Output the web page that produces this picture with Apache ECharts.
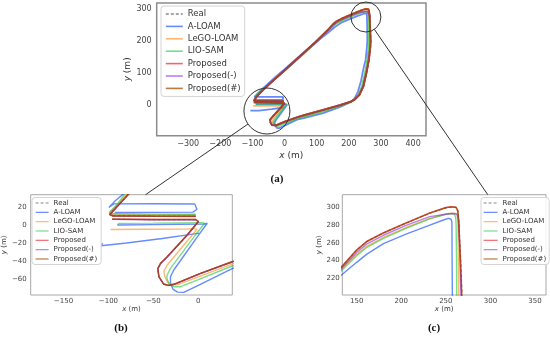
<!DOCTYPE html>
<html><head><meta charset="utf-8">
<script src="https://cdn.jsdelivr.net/npm/echarts@6/dist/echarts.min.js"></script>
<style>html,body{margin:0;padding:0;background:#fff}#c{width:550px;height:339px}</style>
</head><body><div id="c"></div>
<script>
// ---------- data (x, y in metres; null breaks a line) ----------
const seriesNames = ['Real','A-LOAM','LeGO-LOAM','LIO-SAM','Proposed','Proposed(-)','Proposed(#)'];

const realPath = [[-3,10.5],[-50,10.6],[-95,11],[-98.8,12.5],[-88,24],[-76.5,36],[-60,52.5],[-30,80.5],[0,107.5],[50,153.5],[100,200.5],[134,233.8],[150,251.8],[161,261.2],[180,271],[206,282.3],[232,293.3],[250,299.3],[256,300.3],[261.5,299.8],[263.5,296],[264.8,282],[266.8,240],[268.2,200],[267.2,180],[262.7,140],[255.2,100],[245.2,56],[233.2,30],[219.2,16],[206.2,9],[172,-1.8],[120,-16.8],[60,-33.8],[38.3,-40.2],[2.4,-53.3],[-27.3,-65.5],[-33,-66.7],[-38.5,-65.2],[-43.9,-57],[-45,-47.8],[-42,-42.2],[-34.6,-34.9],[-12.4,-10.8],[0,4.3],[2.1,6.3],[-3,6.5],[-50,6.5],[-96,6.9]];

const aloamPath = [[-93,14.5],[-50,14.6],[-6,14.8],[-1.5,18],[-4,23.8],[-50,24.2],[-94,24],[-99.5,20],[-93,27],[-84,34.5],[-72,47],[-60,58],[-30,85],[0,111],[50,156],[100,198],[134,224.5],[150,238],[161,247],[180,259],[206,270],[232,280],[248,286],[252.8,287.6],[256,286.5],[256.8,283],[257,240],[257.3,201],[256,180],[252,140],[246.7,119],[238,75],[228,40],[218,20],[208,9],[175,-7],[120,-27],[60,-43],[38.3,-47.6],[0,-66.4],[-16.2,-74.3],[-23,-74],[-28,-71],[-31,-64],[-31,-57],[-27.3,-49.4],[0.5,-10.5],[8,0],[10,2.5],[5,1.5],[-50,1],[-90,0.5],null,[-106.5,-19.5],[-108,-22.5],[-80,-19.5],[-40,-14.5],[-10,-10.2],[1,-8.5]];

const legoPath = [[-3,12],[-50,12],[-96,12.5],[-99,14],[-89,24],[-80,34.5],[-62,52],[-30,80],[0,106],[50,151],[100,196],[134,231.6],[150,247],[161,256],[180,266],[206,277.5],[232,287.5],[250,292.5],[257,293.5],[261,293],[263,290],[263.5,280],[264,240],[264.5,201],[263.5,180],[259,140],[252,100],[242,56],[230,30],[217,15],[204,7],[170,-5],[120,-20],[60,-37],[38.3,-42.6],[0,-57.1],[-23.5,-66],[-30,-65.3],[-34.6,-62.4],[-37.5,-56],[-38.4,-51.3],[-34.6,-43.9],[-6.8,-10.5],[-1.5,-4.5],[-5,-3.5],[-14,-4],[-60,-4.2],[-97.6,-4.5]];

const liosamPath = [[-3,12.5],[-50,12.6],[-96,13],[-99,14.5],[-90,24],[-82,34.5],[-62,52],[-30,80],[0,106.5],[50,152],[100,197],[134,229.7],[150,245.5],[161,254.5],[180,265],[206,276.5],[232,287],[250,292],[256,293],[259.5,292],[261,289],[261.5,280],[262,240],[262.2,201],[261.5,180],[257,140],[250,100],[240,56],[229,30],[216,15],[203,7],[170,-6],[120,-22],[60,-39],[38.3,-44.7],[0,-60.1],[-19.8,-68],[-27,-68],[-32.8,-65.3],[-35,-58],[-34.6,-55],[-31,-47.6],[-3.2,-10.5],[5,0],[7,2.5],[3,3],[-50,2.6],[-88,2.4],[-90,1]];

const proposedPath = [[-3,10.3],[-50,10.4],[-95,10.8],[-98.6,12.2],[-88,23.6],[-76.6,36],[-60,52.3],[-30,80.4],[0,107.6],[50,153.6],[100,200.8],[134,234.2],[150,252.2],[161,261.5],[180,271.4],[206,282.8],[232,293.8],[250,299.8],[256,300.6],[261,300.2],[263.2,296.5],[264.3,282],[266.2,240],[267.5,200],[266.6,180],[262.2,140],[254.8,100],[244.8,56],[232.8,30],[218.8,16],[205.8,9],[172,-1.6],[120,-16.6],[60,-33.6],[38.3,-40],[2.4,-53.1],[-27.3,-65.3],[-33,-66.5],[-38.5,-65],[-43.9,-56.8],[-45,-47.6],[-42,-42],[-34.6,-34.7],[-12.4,-10.6],[0,4.5],[2.1,6.5],[-3,6.7],[-50,6.7],[-96,7.1]];

const proposedMinusPath = [[-3,10.2],[-50,10.3],[-95,10.6],[-98.4,12],[-88,23.4],[-76.8,35.8],[-60,52],[-30,80],[0,107],[50,152.5],[100,198],[134,232],[150,249],[161,258.5],[180,268.5],[206,280],[232,289.5],[250,292.2],[258,293],[262.5,292.4],[264.2,289],[264.8,280],[265.8,240],[267,200],[266.2,180],[261.8,140],[254.5,100],[244.5,56],[232.5,30],[218.5,16],[205.5,9],[172,-1.9],[120,-17],[60,-34],[38.3,-40.3],[2.4,-53.4],[-27.3,-65.6],[-33,-66.8],[-38.5,-65.3],[-43.9,-57.1],[-45,-47.9],[-42,-42.3],[-34.6,-35],[-12.4,-10.9],[0,4.2],[2.1,6.2],[-3,6.4],[-50,6.4],[-96,6.8]];

const proposedHashPath = [[-3,10],[-50,10.2],[-95,10.5],[-98.5,12],[-88,23.5],[-76.5,36],[-60,52.5],[-30,80.5],[0,107.5],[50,153.5],[100,200.5],[134,233.5],[150,251.5],[161,261],[180,271],[206,282.5],[232,293.5],[250,299.5],[256,300.5],[261.5,300],[263.5,296],[264.5,282],[266.5,240],[268,200],[267,180],[262.5,140],[255,100],[245,56],[233,30],[219,16],[206,9],[172,-1.5],[120,-16.5],[60,-33.5],[38.3,-40],[2.4,-53.1],[-27.3,-65.3],[-33,-66.5],[-38.5,-65],[-43.9,-56.9],[-45,-47.6],[-42,-42],[-34.6,-34.7],[-12.4,-10.6],[0,4.5],[2.1,6.4],[-3,6.6],[-50,6.6],[-96,7]];

const ticksAx = [-300,-200,-100,0,100,200,300,400];
const ticksAy = [0,100,200,300];
const ticksBx = [-150,-100,-50,0];
const ticksBy = [-60,-40,-20,0,20];
const ticksCx = [150,200,250,300,350];
const ticksCy = [220,240,260,280,300];

// ---------- styling ----------
const paths = [realPath, aloamPath, legoPath, liosamPath, proposedPath, proposedMinusPath, proposedHashPath];
const colors = ['#8a8a8a','rgba(2,62,255,0.6)','rgba(255,124,0,0.55)','rgba(26,201,56,0.6)','rgba(232,0,11,0.6)','rgba(139,43,226,0.6)','rgba(159,72,0,0.72)'];
const FONT = 'DejaVu Sans';
const fmt = v => String(v).replace('-', '\u2212');

const grids = [
  {left:156.7, top:3, width:269.3, height:132.7, show:true, borderColor:'#8c8c8c', borderWidth:1.5, backgroundColor:'#fff'},
  {left:30, top:194.7, width:202.3, height:100.3, show:true, borderColor:'#a8a8a8', borderWidth:1, backgroundColor:'#fff'},
  {left:342.3, top:194.7, width:203.7, height:100.3, show:true, borderColor:'#a8a8a8', borderWidth:1, backgroundColor:'#fff'}
];
const ranges = [
  {x:[-398,440], y:[-98,319], tx:ticksAx, ty:ticksAy, fs:8, nfs:9, xg:15, yg:19, xm:4, ym:5},
  {x:[-186.5,37.8], y:[-77.2,34.2], tx:ticksBx, ty:ticksBy, fs:7, nfs:7, xg:11, yg:15, xm:2.5, ym:4},
  {x:[133.9,362.3], y:[201.2,314.2], tx:ticksCx, ty:ticksCy, fs:7, nfs:7, xg:10.5, yg:16.5, xm:2.5, ym:2.5}
];
const rich = fs => ({i:{fontStyle:'italic', fontSize:fs, fontFamily:FONT, color:'#333'}});
const xAxis = ranges.map((r,g) => ({
  type:'value', gridIndex:g, min:r.x[0], max:r.x[1],
  axisLine:{show:false}, axisTick:{show:false}, splitLine:{show:false},
  axisLabel:{customValues:r.tx, formatter:fmt, fontSize:r.fs, fontFamily:FONT, color:'#444', margin:r.xm},
  name:'{i|x} (m)', nameLocation:'middle', nameGap:r.xg,
  nameTextStyle:{fontSize:r.nfs, fontFamily:FONT, color:'#333', rich:rich(r.nfs)}
}));
const yAxis = ranges.map((r,g) => ({
  type:'value', gridIndex:g, min:r.y[0], max:r.y[1],
  axisLine:{show:false}, axisTick:{show:false}, splitLine:{show:false},
  axisLabel:{customValues:r.ty, formatter:fmt, fontSize:r.fs, fontFamily:FONT, color:'#444', margin:r.ym},
  name:'{i|y} (m)', nameLocation:'middle', nameGap:r.yg,
  nameTextStyle:{fontSize:r.nfs, fontFamily:FONT, color:'#333', rich:rich(r.nfs)}
}));

const series = [];
[1.8, 1.4, 1.4].forEach((w, g) => {
  seriesNames.forEach((name, i) => {
    series.push({
      type:'line', name, xAxisIndex:g, yAxisIndex:g, data:paths[i],
      symbol:'none', silent:true, animation:false, clip:true, connectNulls:false,
      lineStyle:{color:colors[i], width: i===0 ? w*0.8 : w, type: i===0 ? [3,2] : 'solid'},
      itemStyle:{color:colors[i]}
    });
  });
});

const legendBase = {
  orient:'vertical', data:seriesNames, selectedMode:false, itemHeight:0.5,
  backgroundColor:'rgba(255,255,255,0.85)', borderColor:'#d4d4d4', borderWidth:1, borderRadius:3
};
const legends = [
  Object.assign({}, legendBase, {left:161, top:6, itemWidth:17, itemGap:2.4, padding:[3,4,3,4],
    lineStyle:{width:1.6}, textStyle:{fontSize:8.5, lineHeight:10, fontFamily:FONT, color:'#333'}}),
  Object.assign({}, legendBase, {left:32, top:197.5, itemWidth:13, itemGap:1.33, padding:[1.5,4,1.5,3],
    lineStyle:{width:1.2}, textStyle:{fontSize:7, lineHeight:8, fontFamily:FONT, color:'#333'}}),
  Object.assign({}, legendBase, {left:481, top:197.5, itemWidth:14, itemGap:1.33, padding:[1.5,3,1.5,2],
    lineStyle:{width:1.2}, textStyle:{fontSize:7, lineHeight:8, fontFamily:FONT, color:'#333'}})
];

const chart = echarts.init(document.getElementById('c'), null, {renderer:'canvas'});
chart.setOption({animation:false, backgroundColor:'#fff', grid:grids, xAxis, yAxis, legend:legends, series});

// ---------- zoom circles, connectors and captions ----------
const c1 = chart.convertToPixel({gridIndex:0}, [-55,-20.4]);
const c2 = chart.convertToPixel({gridIndex:0}, [253,275]);
const e1 = chart.convertToPixel({gridIndex:1}, [-58.7,34.2]);
const e2 = chart.convertToPixel({gridIndex:2}, [297,314.2]);
function conn(c, r, e) {
  const dx = e[0]-c[0], dy = e[1]-c[1], L = Math.hypot(dx,dy);
  return {type:'line', z:100, silent:true, shape:{x1:c[0]+r*dx/L, y1:c[1]+r*dy/L, x2:e[0], y2:e[1]}, style:{stroke:'#333', lineWidth:1}};
}
const cap = (t, x, y) => ({type:'text', z:100, silent:true, x, y,
  style:{text:t, font:'bold 11px "Liberation Serif"', fill:'#111', align:'center', verticalAlign:'middle', textAlign:'center', textVerticalAlign:'middle'}});
chart.setOption({graphic:[
  {type:'circle', z:100, silent:true, shape:{cx:c1[0], cy:c1[1], r:23}, style:{fill:'none', stroke:'#333', lineWidth:1}},
  {type:'circle', z:100, silent:true, shape:{cx:c2[0], cy:c2[1], r:15}, style:{fill:'none', stroke:'#333', lineWidth:1}},
  conn(c1, 23, e1), conn(c2, 15, e2),
  cap('(a)', 277, 179), cap('(b)', 121, 328), cap('(c)', 434, 328)
]});
</script></body></html>
